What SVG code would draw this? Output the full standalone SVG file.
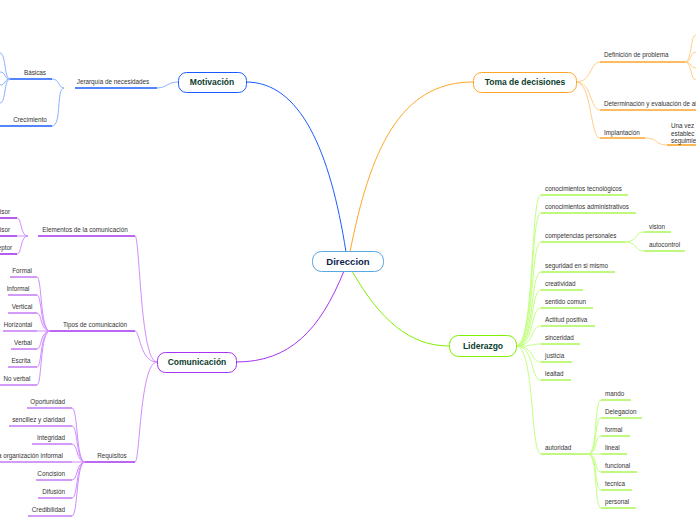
<svg xmlns="http://www.w3.org/2000/svg" width="696" height="520" viewBox="0 0 696 520">
<style>
text{font-family:"Liberation Sans",Arial,sans-serif;font-size:6.3px;fill:#333}
.n{font-size:8.5px;font-weight:bold;fill:#0b3d2e;text-anchor:middle}
.e{text-anchor:end}.m{text-anchor:middle}
.b{stroke:#1a5cff}.o{stroke:#ffa629}.p{stroke:#a634f0}.g{stroke:#80f000}
.bl{stroke:#8fb0ff}.ol{stroke:#ffcf8a}.pl{stroke:#cf8cff}.gl{stroke:#c2ff80}
path{fill:none;stroke-width:1}
.u{stroke-width:1.6}
</style>
<rect width="696" height="520" fill="#fff"/>
<g id="connectors">
<path class="b" stroke-width="1.4" d="M346 252 C330 150,300 82,246 82"/>
<path class="o" stroke-width="1.4" d="M350 252 C370 150,400 82,473 82"/>
<path class="p" stroke-width="1.4" d="M344 271 C320 330,290 362,236 362"/>
<path class="g" stroke-width="1.4" d="M352 271 C380 320,410 346,449 346"/>
<!-- motivacion -->
<path class="bl" d="M178 82 C168 82,166 88,157 88"/>
<path class="b u" d="M75 88 H157"/>
<path class="bl" d="M64 88 C58 88,60 79,52 79"/>
<path class="bl" d="M64 88 C56 88,62 126,52 126"/>
<path class="b u" d="M10 79 H52"/><path class="b u" d="M0 126 H52"/>
<path class="bl" d="M10 79 C4 79,6 53,0 53"/><path class="bl" d="M10 79 C4 79,6 72,0 72"/>
<path class="bl" d="M10 79 C4 79,6 85,0 85"/><path class="bl" d="M10 79 C4 79,6 103,0 103"/>
<!-- toma -->
<path class="ol" d="M576 82 C592 82,590 62,600 62"/>
<path class="ol" d="M576 82 C592 82,590 110,600 110"/>
<path class="ol" d="M576 82 C592 82,590 138,600 138"/>
<path class="o u" d="M600 62 H685"/><path class="o u" d="M600 110 H696"/><path class="o u" d="M600 138 H645"/>
<path class="ol" d="M645 138 C658 138,655 145,667 145"/><path class="o u" d="M667 145 H696"/>
<path class="ol" d="M685 62 C692 62,690 35,696 35"/><path class="ol" d="M685 62 C692 62,690 52,696 52"/>
<path class="ol" d="M685 62 C692 62,690 68,696 68"/><path class="ol" d="M685 62 C692 62,690 80,696 80"/>
<!-- comunicacion -->
<path class="pl" d="M157 362 C140 362,140 236,135 236"/>
<path class="pl" d="M157 362 C140 362,140 331,135 331"/>
<path class="pl" d="M157 362 C140 362,140 462,135 462"/>
<path class="p u" d="M38 236 H135"/><path class="p u" d="M50 331 H135"/><path class="p u" d="M85 462 H135"/>
<path class="pl" d="M28 236 C20 236,22 218,17 218"/><path class="pl" d="M28 236 H17"/><path class="pl" d="M28 236 C20 236,22 254,17 254"/>
<path class="p u" d="M0 218 H17"/><path class="p u" d="M0 236 H17"/><path class="p u" d="M0 254 H17"/>
<g class="pl">
<path d="M50 331 C40 331,42 277,37 277"/><path d="M50 331 C40 331,42 295,37 295"/><path d="M50 331 C40 331,42 313,37 313"/>
<path d="M50 331 H37"/><path d="M50 331 C40 331,42 349,37 349"/><path d="M50 331 C40 331,42 367,37 367"/><path d="M50 331 C40 331,42 385,37 385"/>
<path d="M85 462 C76 462,78 408,72 408"/><path d="M85 462 C76 462,78 426,72 426"/><path d="M85 462 C76 462,78 444,72 444"/>
<path d="M85 462 H72"/><path d="M85 462 C76 462,78 480,72 480"/><path d="M85 462 C76 462,78 498,72 498"/><path d="M85 462 C76 462,78 516,72 516"/>
</g>
<g class="p u">
<path d="M10 277 H37"/><path d="M8 295 H37"/><path d="M8 313 H37"/><path d="M3 331 H37"/><path d="M11 349 H37"/><path d="M8 367 H37"/><path d="M0 385 H37"/>
<path d="M27 408 H72"/><path d="M9 426 H72"/><path d="M32 444 H72"/><path d="M0 462 H72"/><path d="M36 480 H72"/><path d="M38 498 H72"/><path d="M28 516 H72"/>
</g>
<!-- liderazgo -->
<g class="gl">
<path d="M516 346 C535 346,530 195,541 195"/><path d="M516 346 C535 346,530 213,541 213"/><path d="M516 346 C535 346,530 242,541 242"/>
<path d="M516 346 C535 346,530 272,541 272"/><path d="M516 346 C535 346,530 290,541 290"/><path d="M516 346 C535 346,530 308,541 308"/>
<path d="M516 346 C535 346,530 326,541 326"/><path d="M516 346 C535 346,530 344,541 344"/><path d="M516 346 C535 346,530 362,541 362"/>
<path d="M516 346 C535 346,530 380,541 380"/><path d="M516 346 C535 346,530 454,541 454"/>
<path d="M625 242 C638 242,634 232,644 232"/><path d="M625 242 C638 242,634 251,644 251"/>
<path d="M588 454 C598 454,594 400,601 400"/><path d="M588 454 C598 454,594 418,601 418"/><path d="M588 454 C598 454,594 436,601 436"/>
<path d="M588 454 H601"/><path d="M588 454 C598 454,594 472,601 472"/><path d="M588 454 C598 454,594 490,601 490"/><path d="M588 454 C598 454,594 508,601 508"/>
</g>
<g class="g u">
<path d="M541 195 H628"/><path d="M541 213 H636"/><path d="M541 242 H625"/><path d="M644 232 H671"/><path d="M644 251 H685"/>
<path d="M541 272 H615"/><path d="M541 290 H583"/><path d="M541 308 H593"/><path d="M541 326 H595"/><path d="M541 344 H580"/>
<path d="M541 362 H572"/><path d="M541 380 H571"/><path d="M541 454 H588"/>
<path d="M601 400 H631"/><path d="M601 418 H642"/><path d="M601 436 H630"/><path d="M601 454 H627"/><path d="M601 472 H637"/><path d="M601 490 H632"/><path d="M601 508 H636"/>
</g>
</g>
<g id="direccion"><rect x="312.5" y="251.5" width="71" height="20" rx="9" fill="#fff" stroke="#5aa8e0"/><text class="n" x="348" y="265" style="font-size:9.5px;fill:#0b1d4d">Direccion</text></g>
<g id="motivacion"><rect x="178.5" y="72.5" width="68" height="20" rx="8" fill="#fff" stroke="#1a5cff"/><text class="n" x="212" y="85">Motivación</text></g>
<g id="toma"><rect x="473.5" y="72.5" width="103" height="20" rx="8" fill="#fff" stroke="#ffa629"/><text class="n" x="525" y="85">Toma de decisiones</text></g>
<g id="comunicacion"><rect x="157.5" y="352.5" width="79" height="20" rx="8" fill="#fff" stroke="#a634f0"/><text class="n" x="197" y="365">Comunicación</text></g>
<g id="liderazgo"><rect x="449.5" y="335.5" width="67" height="21" rx="9" fill="#fff" stroke="#80f000"/><text class="n" x="483" y="349">Liderazgo</text></g>
<g id="labels">
<text class="m" x="113" y="84">Jerarquía de necesidades</text>
<text class="m" x="35" y="75">Básicas</text><text class="m" x="30" y="122">Crecimiento</text>
<text x="604" y="57">Definición de problema</text>
<text x="604" y="106">Determinación y evaluación de alternativas</text>
<text x="604" y="135">Implantación</text>
<text x="671" y="128">Una vez</text><text x="671" y="136">establec</text><text x="671" y="143">seguimie</text>
<text class="m" x="85" y="232">Elementos de la comunicación</text>
<text class="e" x="10" y="214">Emisor</text><text class="e" x="10" y="232">Transmisor</text><text class="e" x="12" y="250">Receptor</text>
<text class="m" x="95" y="327">Tipos de comunicación</text>
<text class="m" x="22" y="273">Formal</text><text class="m" x="18" y="291">Informal</text><text class="m" x="22" y="309">Vertical</text>
<text class="m" x="18" y="327">Horizontal</text><text class="m" x="23" y="345">Verbal</text><text class="m" x="21" y="363">Escrita</text><text class="m" x="17" y="381">No verbal</text>
<text class="m" x="112" y="458">Requisitos</text>
<text class="e" x="65" y="404">Oportunidad</text><text class="e" x="65" y="422">sencillez y claridad</text><text class="e" x="65" y="440">Integridad</text>
<text class="e" x="63" y="458">la organización informal</text><text class="e" x="65" y="476">Concision</text><text class="e" x="65" y="494">Difusión</text><text class="e" x="65" y="512">Credibilidad</text>
<text x="545" y="191">conocimientos tecnológicos</text><text x="545" y="209">conocimientos administrativos</text>
<text x="545" y="238">competencias personales</text><text x="649" y="229">vision</text><text x="649" y="247">autocontrol</text>
<text x="545" y="268">seguridad en si mismo</text><text x="545" y="286">creatividad</text><text x="545" y="304">sentido comun</text>
<text x="545" y="322">Actitud positiva</text><text x="545" y="340">sinceridad</text><text x="545" y="358">justicia</text><text x="545" y="376">lealtad</text>
<text x="545" y="450">autoridad</text>
<text x="605" y="396">mando</text><text x="605" y="414">Delegacion</text><text x="605" y="432">formal</text><text x="605" y="450">lineal</text>
<text x="605" y="468">funcional</text><text x="605" y="486">tecnica</text><text x="605" y="504">personal</text>
</g>
</svg>
